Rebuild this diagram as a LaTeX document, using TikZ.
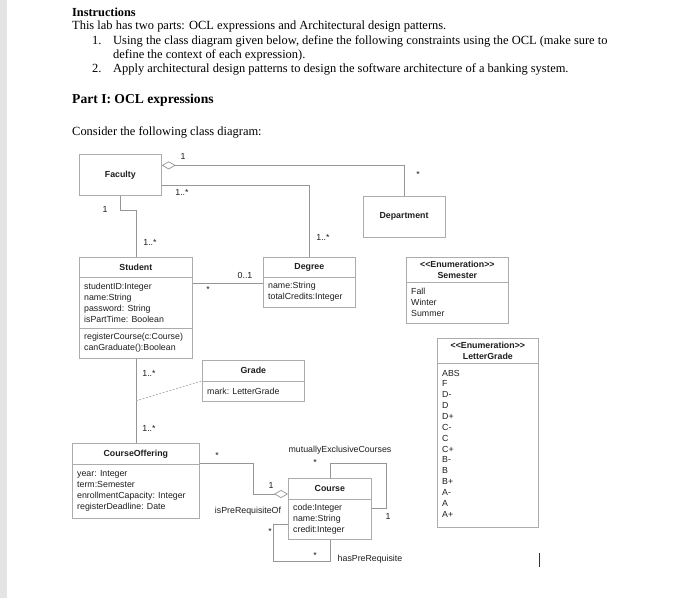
\documentclass[tikz,border=0pt]{standalone}
\usepackage{fontspec}
\setmainfont{Liberation Serif}
\setsansfont{Liberation Sans}
\usepackage{xcolor}
\usepackage{tikz}
\usetikzlibrary{arrows.meta,positioning}
\definecolor{boxgray}{RGB}{172,172,172}
\definecolor{linegray}{RGB}{150,150,150}
\definecolor{inkgray}{RGB}{30,30,30}
\definecolor{stripgray}{RGB}{228,228,228}
\newcommand{\umlfont}{\sffamily\fontsize{8.8}{11}\selectfont}
\newcommand{\enumtag}{<\kern0pt<Enumeration>\kern0pt>}

\begin{document}
\begin{tikzpicture}[x=1pt, y=-1pt,
    classbox/.style={draw=boxgray, line width=0.7pt, anchor=north west, inner sep=0pt},
    boxline/.style={draw=boxgray, line width=0.7pt},
    cname/.style={font=\umlfont\bfseries, text=inkgray, inner sep=0pt},
    attrs/.style={font=\umlfont, text=inkgray, inner sep=0pt, align=left, anchor=west},
    mult/.style={font=\umlfont, text=inkgray, inner sep=0pt},
    assoc/.style={draw=linegray, line width=0.7pt},
    doc/.style={font=\fontsize{12.45}{14}\selectfont, inner sep=0pt, anchor=base west}]
        \useasboundingbox (0,0) rectangle (700,598);
        \fill[white] (0,0) rectangle (700,598);
        \fill[stripgray] (0,0) rectangle (7,598);

        % page text
        \node[doc, font=\fontsize{12.3}{14}\selectfont\bfseries] (ttl) at (72,16.7) {Instructions};
        \node[doc] (intro) at (72,29.5) {This lab has two parts: OCL expressions and Architectural design patterns.};
        \node[doc] (n1) at (92,44.3) {1.};
        \node[doc] (t1) at (113,44.3) {Using the class diagram given below, define the following constraints using the OCL (make sure to};
        \node[doc] (t1b) at (113,58.5) {define the context of each expression).};
        \node[doc] (n2) at (92,72.7) {2.};
        \node[doc] (t2) at (113,72.7) {Apply architectural design patterns to design the software architecture of a banking system.};
        \node[doc, font=\fontsize{13.6}{16}\selectfont\bfseries] (part) at (72,103.3) {Part I: OCL expressions};
        \node[doc] (cons) at (72,135) {Consider the following class diagram:};

        % classes
        \node[classbox, cname, minimum width=82pt, minimum height=41pt] (fac) at (79,154) {Faculty};
        \node[classbox, cname, minimum width=82pt, minimum height=41pt, below right=0pt and 201pt of fac] (dept) {Department};

        \node[classbox, minimum width=113pt, minimum height=101pt] (stu) at (79,257) {};
        \draw[boxline] ([yshift=-20pt]stu.north west) -- ([yshift=-20pt]stu.north east);
        \draw[boxline] ([yshift=-71pt]stu.north west) -- ([yshift=-71pt]stu.north east);
        \node[cname] (stu-t) at ([yshift=-10pt]stu.north) {Student};
        \node[attrs] (stu-a) at ([shift={(5pt,-45.5pt)}]stu.north west) {studentID:Integer\\name:String\\password: String\\isPartTime: Boolean};
        \node[attrs] (stu-m) at ([shift={(5pt,-86pt)}]stu.north west) {registerCourse(c:Course)\\canGraduate():Boolean};

        \node[classbox, minimum width=92pt, minimum height=50pt] (deg) at (263,257) {};
        \draw[boxline] ([yshift=-20pt]deg.north west) -- ([yshift=-20pt]deg.north east);
        \node[cname] (deg-t) at ([yshift=-10pt]deg.north) {Degree};
        \node[attrs] (deg-a) at ([shift={(5pt,-35pt)}]deg.north west) {name:String\\totalCredits:Integer};

        \node[classbox, minimum width=102pt, minimum height=66pt] (sem) at (406,257) {};
        \draw[boxline] ([yshift=-25pt]sem.north west) -- ([yshift=-25pt]sem.north east);
        \node[cname, align=center] (sem-t) at ([yshift=-12.5pt]sem.north) {\enumtag\\Semester};
        \node[attrs] (sem-a) at ([shift={(5pt,-45pt)}]sem.north west) {Fall\\Winter\\Summer};

        \node[classbox, minimum width=101pt, minimum height=189pt] (lg) at (437,338) {};
        \draw[boxline] ([yshift=-25pt]lg.north west) -- ([yshift=-25pt]lg.north east);
        \node[cname, align=center] (lg-t) at ([yshift=-12.5pt]lg.north) {\enumtag\\LetterGrade};
        \node[attrs, font=\sffamily\fontsize{8.8}{10.85}\selectfont] (lg-a) at ([shift={(5pt,-105.5pt)}]lg.north west)
            {ABS\\F\\D-\\D\\D+\\C-\\C\\C+\\B-\\B\\B+\\A-\\A\\A+};

        \node[classbox, minimum width=102pt, minimum height=41pt] (gr) at (202,360) {};
        \draw[boxline] ([yshift=-21pt]gr.north west) -- ([yshift=-21pt]gr.north east);
        \node[cname] (gr-t) at ([yshift=-10pt]gr.north) {Grade};
        \node[attrs] (gr-a) at ([shift={(5pt,-31pt)}]gr.north west) {mark: LetterGrade};

        \node[classbox, minimum width=127pt, minimum height=75pt] (co) at (72,443) {};
        \draw[boxline] ([yshift=-21pt]co.north west) -- ([yshift=-21pt]co.north east);
        \node[cname] (co-t) at ([yshift=-11pt]co.north) {CourseOffering};
        \node[attrs] (co-a) at ([shift={(5pt,-47.5pt)}]co.north west) {year: Integer\\term:Semester\\enrollmentCapacity: Integer\\registerDeadline: Date};

        \node[classbox, minimum width=83pt, minimum height=61pt] (crs) at (288,478) {};
        \draw[boxline] ([yshift=-21pt]crs.north west) -- ([yshift=-21pt]crs.north east);
        \node[cname] (crs-t) at ([yshift=-10pt]crs.north) {Course};
        \node[attrs] (crs-a) at ([shift={(5pt,-41pt)}]crs.north west) {code:Integer\\name:String\\credit:Integer};

        % associations
        \draw[assoc, {Diamond[open, length=14pt, width=8pt]}-] ([yshift=9.5pt]fac.east) -| (dept.north);
        \draw[assoc] ([yshift=-10.5pt]fac.east) -| (deg.north);
        \draw[assoc] (fac.south) -- ++(0,15) -| (stu.north);
        \draw[assoc] ([yshift=-26pt]stu.north east) -- ([yshift=-26pt]deg.north west);
        \draw[assoc] (stu.south) -- coordinate[pos=0.5] (mid) (co.north);
        \draw[assoc, dashed, dash pattern=on 2pt off 1.5pt, draw=boxgray] (mid) -- (gr.west);
        \draw[assoc, {Diamond[open, length=14pt, width=8pt]}-] ([yshift=-16pt]crs.north west) -- ++(-35,0) |- ([yshift=-20pt]co.north east);
        \draw[assoc] (crs.north) -- ++(0,-15) -- ++(56.5,0) |- ([yshift=-30pt]crs.north east);
        \draw[assoc] ([yshift=-46pt]crs.north west) -- ++(-15,0) |- ([yshift=-22pt]crs.south) -- (crs.south);

        % multiplicities and role names
        \node[mult] (m-fd1) at (183,156) {1};
        \node[mult] (m-fd2) at (418,174) {*};
        \node[mult] (m-fg1) at (182,192) {1..*};
        \node[mult] (m-fg2) at (323,237) {1..*};
        \node[mult] (m-fs1) at (105,209) {1};
        \node[mult] (m-fs2) at (150,242) {1..*};
        \node[mult] (m-sd1) at (208,289) {*};
        \node[mult] (m-sd2) at (245,275) {0..1};
        \node[mult] (m-sc1) at (149,373) {1..*};
        \node[mult] (m-sc2) at (149,428) {1..*};
        \node[mult] (m-cc1) at (217,455) {*};
        \node[mult] (m-cc2) at (271,485) {1};
        \node[mult] (r-mx) at (340,450) {mutuallyExclusiveCourses};
        \node[mult] (m-mx1) at (315,462) {*};
        \node[mult] (m-mx2) at (388,516) {1};
        \node[mult] (r-pre) at (248,511) {isPreRequisiteOf};
        \node[mult] (m-pr1) at (270,531) {*};
        \node[mult] (m-pr2) at (315,555) {*};
        \node[mult] (r-has) at (370,559) {hasPreRequisite};

        \draw[line width=0.8pt, black!80] (539,553) -- (539,567);
      \end{tikzpicture}
\end{document}
